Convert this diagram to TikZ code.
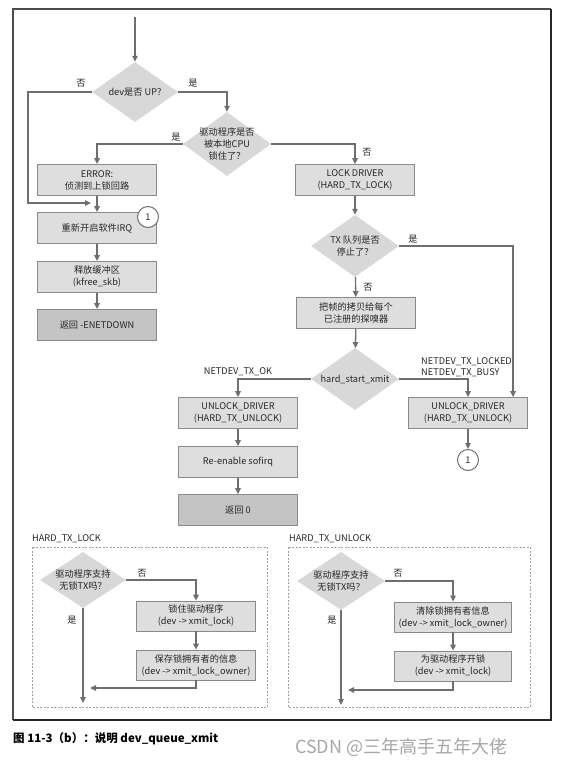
\documentclass[tikz,border=0pt]{standalone}
\usepackage{fontspec}
\setmainfont{Noto Sans CJK SC}
\usetikzlibrary{shapes.geometric,arrows.meta,calc}
\definecolor{lnc}{HTML}{6E6E6E}
\definecolor{bxc}{HTML}{DEDEDE}
\definecolor{bxdc}{HTML}{C4C4C4}
\definecolor{bdc}{HTML}{8A8A8A}
\definecolor{dmc}{HTML}{D8D8D8}
\definecolor{txc}{HTML}{262626}
\begin{document}
\begin{tikzpicture}[x=1pt,y=-1pt,
  font=\fontsize{9.2}{12}\selectfont,
  every node/.style={text=txc},
  box/.style={draw=bdc, line width=0.8pt, fill=bxc, minimum width=119pt, minimum height=31pt, inner sep=0pt, align=center},
  sbox/.style={box, minimum width=119pt, minimum height=30pt},
  dbox/.style={box, fill=bxdc},
  dia/.style={diamond, fill=dmc, inner sep=0pt},
  dtext/.style={align=center, inner sep=0pt},
  lab/.style={inner sep=1pt},
  conn/.style={draw=lnc, line width=1.3pt, -{Triangle[length=6pt,width=5.5pt]}},
  plain/.style={draw=lnc, line width=1.3pt},
  circ/.style={circle, draw=lnc, line width=1pt, fill=white, minimum size=21pt, inner sep=0pt},
  dashbox/.style={draw=gray!75, dash pattern=on 2pt off 1.5pt, line width=0.6pt}
]
\useasboundingbox (0,0) rectangle (567,766);
% frame
\draw[gray!60!black, line width=1.2pt] (13,720) -- (13,9) -- (551,9);
\draw[black!85, line width=1.2pt] (551,9) -- (551,720) -- (13,720);

% main flow
\node[dia, minimum width=86pt, minimum height=60pt] (d1) at (135,92) {};
\node[dtext] (d1t) at (d1) {dev是否 UP?};
\node[dia, minimum width=88pt, minimum height=64pt] (d2) at (227,144) {};
\node[dtext] (d2t) at (d2) {驱动程序是否\\被本地CPU\\锁住了？};
\node[box] (err) at (97,180) {ERROR:\\侦测到上锁回路};
\node[box] (lock) at (355,180) {LOCK DRIVER\\(HARD\_TX\_LOCK)};
\node[box] (irq) at (97,228) {重新开启软件IRQ};
\node[box] (free) at (97,277) {释放缓冲区\\(kfree\_skb)};
\node[dbox] (ret) at (97,325) {返回 -ENETDOWN};
\node[dia, minimum width=88pt, minimum height=62pt] (d3) at (355,246) {};
\node[dtext] (d3t) at (d3) {TX 队列是否\\停止了？};
\node[box] (copy) at (356,313) {把帧的拷贝给每个\\已注册的探嗅器};
\node[dia, minimum width=88pt, minimum height=62pt] (d4) at (355,379) {};
\node[dtext] (d4t) at (d4) {hard\_start\_xmit};
\node[box] (ul) at (238,413) {UNLOCK\_DRIVER\\(HARD\_TX\_UNLOCK)};
\node[box] (ur) at (468,413) {UNLOCK\_DRIVER\\(HARD\_TX\_UNLOCK)};
\node[box] (re) at (238,462) {Re-enable sofirq};
\node[dbox] (ret0) at (238,510) {返回 0};

\coordinate (start) at (135,17);
\coordinate (m1) at (91,203);
\coordinate (ur1) at ($(ur.north)+(45,0)$);

\draw[conn] (start) -- (d1.north);
\draw[conn] (d1.west) -| (28,203) -- (m1);
\draw[conn] (d1.east) -| (d2.north);
\draw[conn] (d2.west) -| (err.north);
\draw[conn] (d2.east) -| (lock.north);
\draw[conn] (err) -- (irq);
\draw[conn] (irq) -- (free);
\draw[conn] (free) -- (ret);
\draw[conn] (lock) -- (d3);
\draw[conn] (d3) -- (copy);
\draw[conn] (d3.east) -| (ur1);
\draw[conn] (copy) -- (d4);
\draw[conn] (d4.west) -| (ul.north);
\draw[conn] (d4.east) -| (ur.north);
\draw[conn] (ul) -- (re);
\draw[conn] (re) -- (ret0);

\node[circ] (c1) at (148,217) {1};
\node[circ] (c2) at (468,460) {1};
\draw[conn] (ur) -- (c2);

% labels
\node[lab] (l1) at (81,83) {否};
\node[lab] (l2) at (193,83) {是};
\node[lab] (l3) at (176,137) {是};
\node[lab] (l4) at (367,152) {否};
\node[lab] (l5) at (413,239) {是};
\node[lab] (l6) at (368,287) {否};
\node[lab] (l7) at (238,372) {NETDEV\_TX\_OK};
\node[lab, anchor=west, align=left, font=\fontsize{9.2}{11}\selectfont] (l8) at (420,367) {NETDEV\_TX\_LOCKED\\NETDEV\_TX\_BUSY};

% HARD_TX_LOCK
\draw[dashbox] (32,547) rectangle (267,707);
\node[lab, anchor=west] (hl) at (31,539) {HARD\_TX\_LOCK};
\node[dia, minimum width=86pt, minimum height=56pt] (d5) at (83,580) {};
\node[dtext] (d5t) at (d5) {驱动程序支持\\无锁TX吗？};
\node[sbox] (b1) at (196,616) {锁住驱动程序\\(dev -> xmit\_lock)};
\node[sbox] (b2) at (196,665) {保存锁拥有者的信息\\(dev -> xmit\_lock\_owner)};
\coordinate (e5) at (83,703);
\coordinate (m5) at (90,688);
\draw[conn] (d5.east) -| (b1.north);
\draw[conn] (b1) -- (b2);
\draw[conn] (b2.south) |- (m5);
\draw[conn] (d5.south) -- (e5);
\node[lab] (l9) at (142,573) {否};
\node[lab] (l10) at (72,620) {是};

% HARD_TX_UNLOCK
\draw[dashbox] (288,547) rectangle (530,707);
\node[lab, anchor=west] (hu) at (288,539) {HARD\_TX\_UNLOCK};
\node[dia, minimum width=88pt, minimum height=58pt] (d6) at (341,581) {};
\node[dtext] (d6t) at (d6) {驱动程序支持\\无锁TX吗？};
\node[sbox, minimum width=117pt] (b3) at (453,617) {清除锁拥有者信息\\(dev -> xmit\_lock\_owner)};
\node[sbox, minimum width=117pt] (b4) at (453,666) {为驱动程序开锁\\(dev -> xmit\_lock)};
\coordinate (e6) at (341,705);
\coordinate (m6) at (348,690);
\draw[conn] (d6.east) -| (b3.north);
\draw[conn] (b3) -- (b4);
\draw[conn] (b4.south) |- (m6);
\draw[conn] (d6.south) -- (e6);
\node[lab] (l11) at (398,573) {否};
\node[lab] (l12) at (332,620) {是};

% caption
\node[anchor=west, inner sep=0pt, text=black, font=\bfseries\fontsize{11.5}{14}\selectfont] (cap) at (13,739) {图 11-3（b）：说明 dev\_queue\_xmit};
\node[anchor=west, inner sep=0pt, text=gray!70, font=\fontsize{18}{21}\selectfont] (wm) at (295,747) {CSDN @三年高手五年大佬};
\end{tikzpicture}
\end{document}
